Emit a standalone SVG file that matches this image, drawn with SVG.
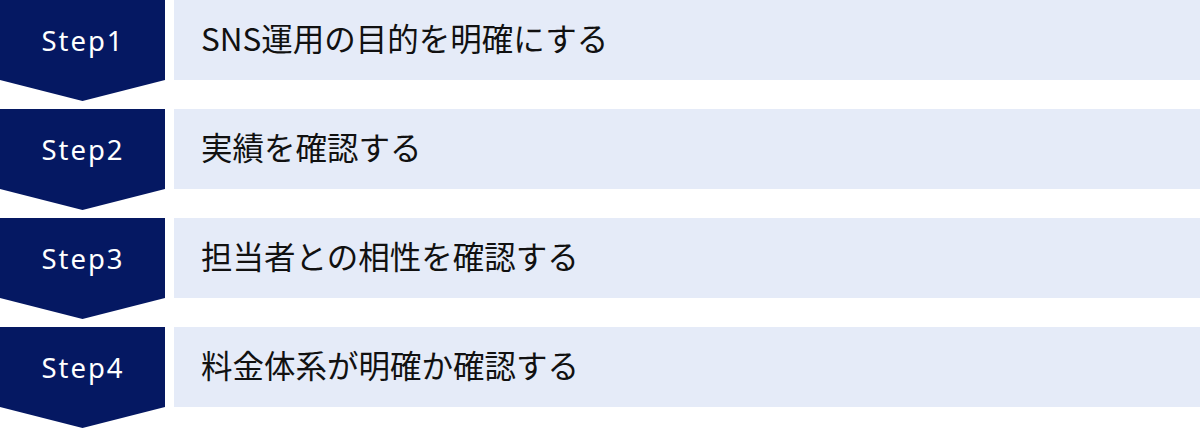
<svg xmlns="http://www.w3.org/2000/svg" width="1200" height="429" viewBox="0 0 1200 429">
<defs>
<style>
.chev{fill:#051862;}
.panel{fill:#e5ebf8;}
.step{fill:#ffffff;font-family:"Noto Sans","Noto Sans CJK JP",sans-serif;font-size:27.5px;letter-spacing:2px;text-anchor:middle;}
.label{fill:#111111;font-family:"Noto Sans CJK JP","Noto Sans",sans-serif;font-size:31.5px;}
</style>
<path id="chevShape" d="M0,0 H165 V80 L82.5,101 L0,80 Z"/>
</defs>
<g id="connectors"></g>
<g id="step1">
<use href="#chevShape" class="chev"/>
<rect class="panel" x="174" y="0" width="1026" height="80"/>
<text class="step" x="83" y="51">Step1</text>
<text class="label" x="201" y="51">SNS運用の目的を明確にする</text>
</g>
<g id="step2" transform="translate(0,109)">
<use href="#chevShape" class="chev"/>
<rect class="panel" x="174" y="0" width="1026" height="80"/>
<text class="step" x="83" y="51">Step2</text>
<text class="label" x="201" y="51">実績を確認する</text>
</g>
<g id="step3" transform="translate(0,218)">
<use href="#chevShape" class="chev"/>
<rect class="panel" x="174" y="0" width="1026" height="80"/>
<text class="step" x="83" y="51">Step3</text>
<text class="label" x="201" y="51">担当者との相性を確認する</text>
</g>
<g id="step4" transform="translate(0,327)">
<use href="#chevShape" class="chev"/>
<rect class="panel" x="174" y="0" width="1026" height="80"/>
<text class="step" x="83" y="51">Step4</text>
<text class="label" x="201" y="51">料金体系が明確か確認する</text>
</g>
</svg>
